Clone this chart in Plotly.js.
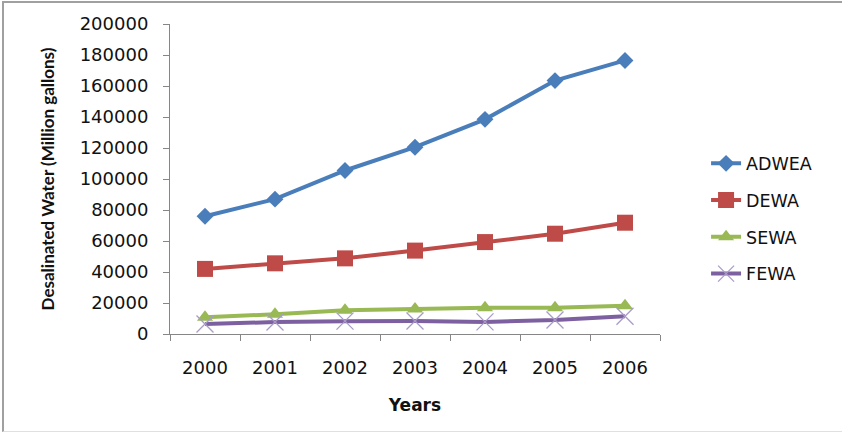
<!DOCTYPE html>
<html><head><meta charset="utf-8">
<script src="https://cdn.plot.ly/plotly-3.0.1.min.js"></script>
<style>
html,body{margin:0;padding:0;background:#fff;}
#wrap{position:relative;width:842px;height:434px;}
#chart{width:842px;height:434px;}
#frame{position:absolute;left:2px;top:1px;width:842px;height:431px;border-top:2px solid #a0a0a0;border-left:2px solid #a0a0a0;border-bottom:1px solid #e0e0e0;box-sizing:border-box;pointer-events:none;}
</style></head>
<body>
<div id="wrap"><div id="chart"></div><div id="frame"></div></div>
<script>
const years = ['2000','2001','2002','2003','2004','2005','2006'];
const ADWEA = [76000, 87000, 105500, 120500, 138500, 163500, 176500];
const DEWA  = [42000, 45600, 48800, 53800, 59300, 64700, 71800];
const SEWA  = [10800, 12700, 15300, 16100, 17000, 16900, 18200];
const FEWA  = [6400, 7700, 8300, 8400, 7800, 9000, 11400];
const yTicks = [0,20000,40000,60000,80000,100000,120000,140000,160000,180000,200000];

const tickFont = '"DejaVu Sans", sans-serif';
const titleFont = 'Lato, "Open Sans", sans-serif';
function tr(name, y, color, symbol, msize, mcolor, mline){
  return {x: years, y: y, name: name, type:'scatter', mode:'lines+markers',
    legendgroup: name,
    line:{color: color, width: 4},
    marker:{symbol: symbol, size: msize, color: mcolor || color, line: mline || {width:0}}};
}
const data = [
  tr('ADWEA', ADWEA, '#4A7EBB', 'diamond', 13),
  tr('DEWA', DEWA, '#BE4B48', 'square', 16),
  tr('SEWA', SEWA, '#98B954', 'triangle-up', 14),
  tr('FEWA', FEWA, '#7D60A0', 'x-thin', 17, '#A99BC8', {width:1.3, color:'#A99BC8'})
];
const layout = {
  width: 842, height: 434,
  margin: {l:170, r:182, t:24, b:100},
  paper_bgcolor:'#fff', plot_bgcolor:'#fff',
  font:{family: tickFont, color:'#111'},
  showlegend: true,
  legend:{x:1.094, y:0.3726, xanchor:'left', yanchor:'middle', traceorder:'grouped', tracegroupgap:11,
    font:{size:17.5, family: tickFont, color:'#111'}, itemwidth:30},
  xaxis:{type:'category', range:[-0.5,6.5], tickson:'boundaries', ticks:'outside', ticklen:6,
    tickcolor:'#868686', showline:true, linecolor:'#868686', linewidth:1, showgrid:false,
    tickfont:{size:18, family: tickFont, color:'#111'}, ticklabelstandoff:17,
    title:{text:'<b>Years</b>', font:{size:17, family: tickFont, color:'#111'}, standoff:22}},
  yaxis:{range:[0,200000], tickvals: yTicks, ticktext: yTicks.map(String), ticks:'outside', ticklen:6,
    tickcolor:'#868686', showline:true, linecolor:'#868686', linewidth:1, showgrid:false, zeroline:false,
    tickfont:{size:18, family: tickFont, color:'#111'}, ticklabelstandoff:11,
    title:{text:'<b>Desalinated Water (Million gallons)</b>', font:{size:17, family: titleFont, color:'#111'}, standoff:20}}
};
Plotly.newPlot('chart', data, layout, {displayModeBar:false, staticPlot:true});
</script>
</body></html>
